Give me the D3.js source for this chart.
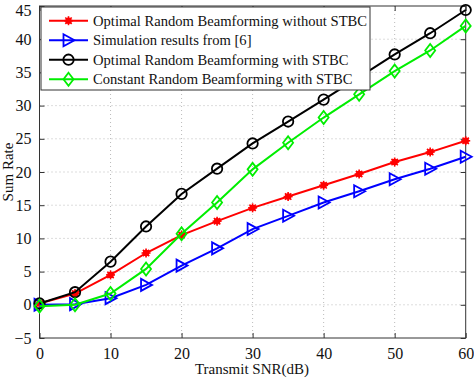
<!DOCTYPE html>
<html>
<head>
<meta charset="utf-8">
<script src="https://cdn.jsdelivr.net/npm/d3@7/dist/d3.min.js"></script>
<style>
  html, body { margin: 0; padding: 0; background: #fff; }
  svg { display: block; font-family: "Liberation Serif", "Times New Roman", serif; }
</style>
</head>
<body>
<svg width="474" height="379"></svg>
<script>
const snr = [0, 5, 10, 15, 20, 25, 30, 35, 40, 45, 50, 55, 60];

const optNoStbc = [0.2, 1.7, 4.5, 7.8, 10.5, 12.6, 14.6, 16.3, 18.0, 19.7, 21.5, 23.0, 24.7];
const simRef6   = [0.0, 0.1, 1.0, 3.0, 5.9, 8.5, 11.4, 13.4, 15.4, 17.1, 18.9, 20.5, 22.3];
const optStbc   = [0.2, 1.9, 6.5, 11.8, 16.7, 20.5, 24.3, 27.6, 30.9, 34.3, 37.7, 40.9, 44.4];
const constStbc = [-0.2, 0.0, 1.7, 5.4, 10.7, 15.4, 20.4, 24.4, 28.2, 31.7, 35.2, 38.3, 42.0];

const seriesNames = [
  "Optimal Random Beamforming without STBC",
  "Simulation results from [6]",
  "Optimal Random Beamforming with STBC",
  "Constant Random Beamforming with STBC"
];
const xTicks = [0, 10, 20, 30, 40, 50, 60];
const yTicks = [-5, 0, 5, 10, 15, 20, 25, 30, 35, 40, 45];

const series = [
  { name: seriesNames[0], values: optNoStbc, color: "#ff0000", marker: "star" },
  { name: seriesNames[1], values: simRef6,   color: "#0000ff", marker: "tri" },
  { name: seriesNames[2], values: optStbc,   color: "#000000", marker: "circle" },
  { name: seriesNames[3], values: constStbc, color: "#00ee00", marker: "diamond" }
];

const L = 39.5, R = 465.7, T = 6, B = 338;
const svg = d3.select("svg");

const x = d3.scaleLinear().domain([0, 60]).range([L, R]);
const y = d3.scaleLinear().domain([-5, 45]).range([B, T]);

// grid
const grid = svg.append("g").attr("stroke", "#aaa").attr("stroke-width", 0.8)
  .attr("stroke-dasharray", "1,3");
grid.selectAll(".gx").data(xTicks.slice(1, -1)).join("line")
  .attr("x1", d => x(d)).attr("x2", d => x(d)).attr("y1", T).attr("y2", B);
grid.selectAll(".gy").data(yTicks.slice(1, -1)).join("line")
  .attr("y1", d => y(d)).attr("y2", d => y(d)).attr("x1", L).attr("x2", R);

// axes, ticks inward (matlab style)
const tk = 5;
svg.append("g").attr("transform", `translate(0,${B})`)
  .call(d3.axisBottom(x).tickValues(xTicks).tickSizeInner(-tk).tickSizeOuter(0).tickPadding(10));
const yAxis = svg.append("g").attr("transform", `translate(${L},0)`)
  .call(d3.axisLeft(y).tickValues(yTicks).tickSizeInner(-tk).tickSizeOuter(0).tickPadding(8)
    .tickFormat(d => d < 0 ? "\u2212" + Math.abs(d) : d));
svg.append("g").attr("transform", `translate(0,${T})`)
  .call(d3.axisTop(x).tickValues(xTicks).tickSizeInner(-tk).tickSizeOuter(0).tickFormat(""));
svg.append("g").attr("transform", `translate(${R},0)`)
  .call(d3.axisRight(y).tickValues(yTicks).tickSizeInner(-tk).tickSizeOuter(0).tickFormat(""));
svg.selectAll(".domain").remove();
svg.selectAll(".tick line").attr("stroke", "#333");
svg.selectAll(".tick text").attr("font-family", "Liberation Serif").attr("font-size", 16).attr("fill", "#111");
// keep the top label inside the picture
yAxis.selectAll(".tick text").filter(d => d === 45).attr("dy", "0.62em");

svg.append("rect").attr("x", L).attr("y", T).attr("width", R - L).attr("height", B - T)
  .attr("fill", "none").attr("stroke", "#333").attr("stroke-width", 1);

function drawMarker(g, type, color) {
  if (type === "star") {
    g.append("circle").attr("r", 3.2).attr("fill", color);
    for (let a = 0; a < 4; a++) {
      const ang = a * Math.PI / 4;
      g.append("line").attr("x1", -4.5 * Math.cos(ang)).attr("y1", -4.5 * Math.sin(ang))
        .attr("x2", 4.5 * Math.cos(ang)).attr("y2", 4.5 * Math.sin(ang))
        .attr("stroke", color).attr("stroke-width", 1.6);
    }
  } else if (type === "tri") {
    g.append("path").attr("d", "M-5,-6L6,0L-5,6Z").attr("fill", "none")
      .attr("stroke", color).attr("stroke-width", 1.8);
  } else if (type === "circle") {
    g.append("circle").attr("r", 5.2).attr("fill", "none")
      .attr("stroke", color).attr("stroke-width", 1.8);
  } else if (type === "diamond") {
    g.append("path").attr("d", "M0,-6.5L5,0L0,6.5L-5,0Z").attr("fill", "none")
      .attr("stroke", color).attr("stroke-width", 1.8);
  }
}

const line = d3.line().x((d, i) => x(snr[i])).y(d => y(d));

series.forEach(s => {
  const g = svg.append("g");
  g.append("path").datum(s.values).attr("d", line).attr("fill", "none")
    .attr("stroke", s.color).attr("stroke-width", 2);
  s.values.forEach((v, i) => {
    drawMarker(g.append("g").attr("transform", `translate(${x(snr[i])},${y(v)})`), s.marker, s.color);
  });
});

// legend
const lg = svg.append("g");
lg.append("rect").attr("x", 41).attr("y", 7).attr("width", 329).attr("height", 83)
  .attr("fill", "#fff").attr("stroke", "#333").attr("stroke-width", 1);
series.forEach((s, i) => {
  const yy = 20.7 + i * 19.5;
  lg.append("line").attr("x1", 49).attr("x2", 88).attr("y1", yy).attr("y2", yy)
    .attr("stroke", s.color).attr("stroke-width", 2);
  drawMarker(lg.append("g").attr("transform", `translate(68.5,${yy})`), s.marker, s.color);
  lg.append("text").attr("x", 93).attr("y", yy + 5).attr("font-size", 14.6)
    .attr("fill", "#111").text(s.name);
});

// axis labels
svg.append("text").attr("x", 252).attr("y", 374).attr("text-anchor", "middle")
  .attr("font-size", 15).attr("fill", "#111").text("Transmit SNR(dB)");
svg.append("text").attr("transform", "translate(13,172) rotate(-90)").attr("text-anchor", "middle")
  .attr("font-size", 15).attr("fill", "#111").text("Sum Rate");
</script>
</body>
</html>
